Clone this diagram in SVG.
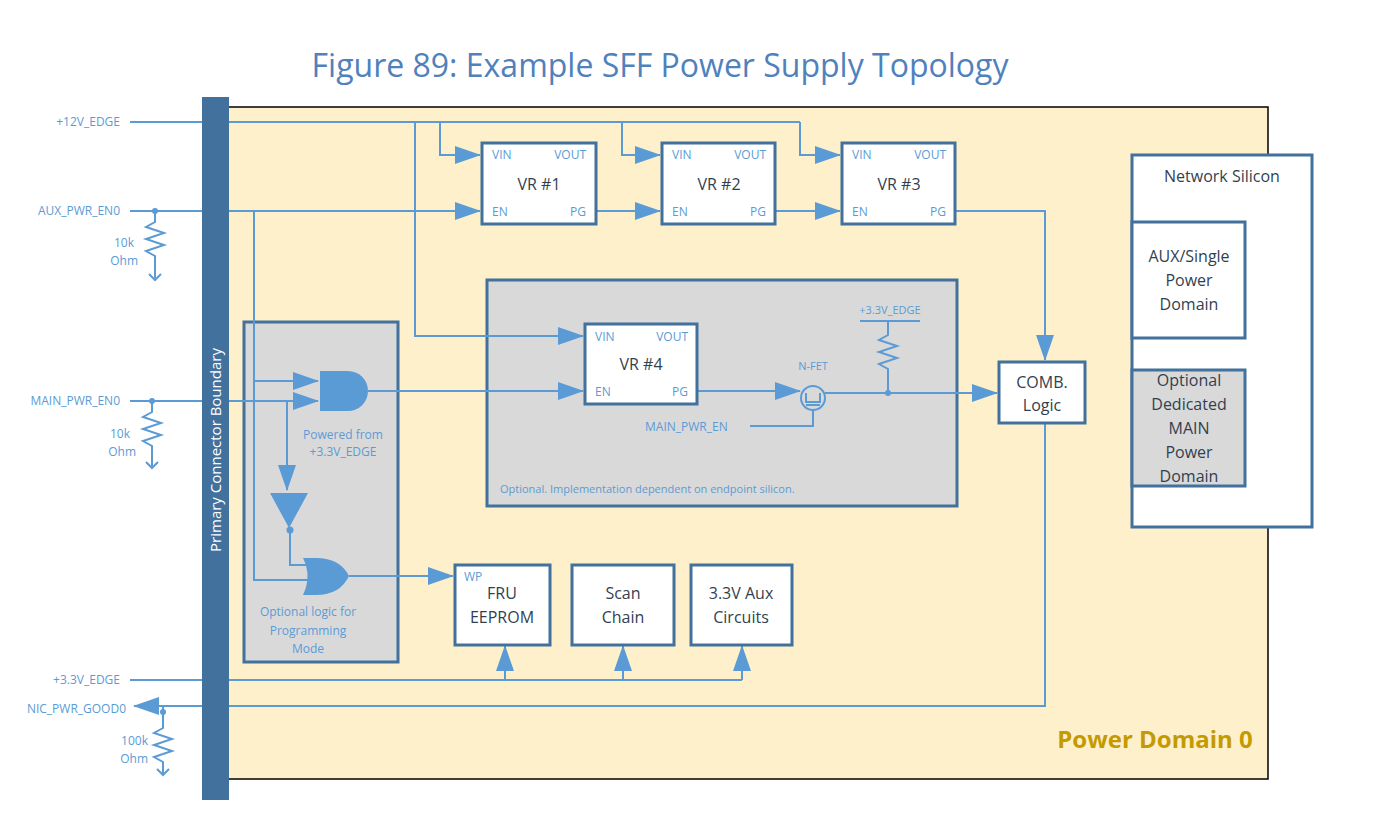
<svg xmlns="http://www.w3.org/2000/svg" width="1375" height="830" viewBox="0 0 1375 830">
<style>
.w{fill:none;stroke:#5B9BD5;stroke-width:2}
.bx{fill:#fff;stroke:#41719C;stroke-width:3}
.gb{fill:#D9D9D9;stroke:#41719C;stroke-width:3}
.t{font-family:"Open Sans","Liberation Sans",sans-serif;fill:#5B9BD5;font-size:12px}
.tc{text-anchor:middle}
.tr{text-anchor:end}
.b{font-family:"Open Sans","Liberation Sans",sans-serif;fill:#333F50;font-size:16px;text-anchor:middle}
.d{fill:#5B9BD5}
</style>
<defs>
<marker id="a" markerWidth="12" markerHeight="10" refX="11" refY="5" orient="auto" markerUnits="userSpaceOnUse"><path d="M0,0L12,5L0,10z" fill="#5B9BD5"/></marker>
<marker id="a2" markerWidth="26" markerHeight="18" refX="25" refY="9" orient="auto" markerUnits="userSpaceOnUse"><path d="M0,0L26,9L0,18z" fill="#5B9BD5"/></marker>
</defs>
<rect width="1375" height="830" fill="#fff"/>
<text x="660" y="77" font-family="'Open Sans','Liberation Sans',sans-serif" font-size="32" fill="#4F81BD" text-anchor="middle">Figure 89: Example SFF Power Supply Topology</text>
<rect x="228" y="107" width="1040" height="672" fill="#FFF0CC" stroke="#000" stroke-width="1.5"/>
<text x="1155" y="748" font-family="'Open Sans','Liberation Sans',sans-serif" font-size="24" font-weight="bold" fill="#C49A00" text-anchor="middle">Power Domain 0</text>
<g id="optional"><rect class="gb" x="487" y="280" width="470" height="226"/><text class="t" x="500" y="493" style="font-size:11px">Optional. Implementation dependent on endpoint silicon.</text></g>
<g id="proglogic"><rect class="gb" x="244" y="322" width="154" height="340"/>
<text class="t tc" x="343" y="439">Powered from</text><text class="t tc" x="343" y="456">+3.3V_EDGE</text>
<text class="t tc" x="308" y="616">Optional logic for</text><text class="t tc" x="308" y="635">Programming</text><text class="t tc" x="308" y="653">Mode</text></g>
<g id="connectors">
<path class="w" d="M130,122H800"/>
<path class="w" d="M440,122V155H480" marker-end="url(#a2)"/>
<path class="w" d="M622,122V155H660" marker-end="url(#a2)"/>
<path class="w" d="M800,122V155H840" marker-end="url(#a2)"/>
<path class="w" d="M415,122V336H583" marker-end="url(#a2)"/>
<path class="w" d="M130,211H480" marker-end="url(#a2)"/>
<path class="w" d="M596,211H660" marker-end="url(#a2)"/>
<path class="w" d="M775,211H840" marker-end="url(#a2)"/>
<path class="w" d="M955,211H1045V360" marker-end="url(#a2)"/>
<path class="w" d="M254,211V580H310"/>
<path class="w" d="M254,381H318" marker-end="url(#a2)"/>
<path class="w" d="M130,401H318" marker-end="url(#a2)"/>
<path class="w" d="M287,401V490" marker-end="url(#a2)"/>
<path class="w" d="M290,530V565H310"/>
<path class="w" d="M368,391H583" marker-end="url(#a2)"/>
<path class="w" d="M349,576H453" marker-end="url(#a2)"/>
<path class="w" d="M697,391H800" marker-end="url(#a2)"/>
<path class="w" d="M825,393H997" marker-end="url(#a2)"/>
<path class="w" d="M750,426H813V410"/>
<path class="w" d="M860,321H920M888,321V335l-9,5 18,6-18,6 18,6-18,6 9,5V393"/>
<path class="w" d="M1045,423V706H134" marker-end="url(#a2)"/>
<path class="w" d="M130,680H742"/>
<path class="w" d="M505,680V646" marker-end="url(#a2)"/>
<path class="w" d="M623,680V646" marker-end="url(#a2)"/>
<path class="w" d="M742,680V646" marker-end="url(#a2)"/>
<path class="w" d="M155,211V222l-9,5 18,6-18,6 18,6-18,6 9,5V278M149,274L155,280 161,274"/>
<path class="w" d="M152,401V412l-9,5 18,6-18,6 18,6-18,6 9,5V466M146,462L152,468 158,462"/>
<path class="w" d="M163,706V728l-9,5 18,6-18,6 18,6-18,6 9,5V773M157,769L163,775 169,769"/>
<circle class="d" cx="155" cy="211" r="3"/><circle class="d" cx="152" cy="401" r="3"/><circle class="d" cx="163" cy="712" r="3"/><circle class="d" cx="888" cy="393" r="3"/><circle class="d" cx="290" cy="530" r="3.5"/>
</g>
<g id="boundary"><rect x="202" y="97" width="27" height="703" fill="#41719C"/>
<text x="0" y="0" transform="translate(221,450) rotate(-90)" font-family="'Open Sans','Liberation Sans',sans-serif" font-size="15" fill="#fff" text-anchor="middle">Primary Connector Boundary</text></g>
<g id="labels">
<text class="t tr" x="120" y="126">+12V_EDGE</text>
<text class="t tr" x="120" y="215">AUX_PWR_EN0</text>
<text class="t tr" x="120" y="405">MAIN_PWR_EN0</text>
<text class="t tr" x="120" y="684">+3.3V_EDGE</text>
<text class="t tr" x="126" y="713">NIC_PWR_GOOD0</text>
<text class="t tr" x="134" y="247">10k</text><text class="t tr" x="138" y="265">Ohm</text>
<text class="t tr" x="130" y="438">10k</text><text class="t tr" x="136" y="456">Ohm</text>
<text class="t tr" x="148" y="745">100k</text><text class="t tr" x="148" y="763">Ohm</text>
<text class="t tc" x="890" y="314" style="font-size:11px">+3.3V_EDGE</text>
<text class="t tc" x="813" y="370" style="font-size:11px">N-FET</text>
<text class="t" x="645" y="431">MAIN_PWR_EN</text>
</g>
<g id="vr1"><rect class="bx" x="482" y="143" width="114" height="81"/><text class="t" x="492" y="159">VIN</text><text class="t tr" x="586" y="159">VOUT</text><text class="t" x="492" y="216">EN</text><text class="t tr" x="586" y="216">PG</text><text class="b" x="539" y="190">VR #1</text></g>
<g id="vr2"><rect class="bx" x="662" y="143" width="113" height="81"/><text class="t" x="672" y="159">VIN</text><text class="t tr" x="766" y="159">VOUT</text><text class="t" x="672" y="216">EN</text><text class="t tr" x="766" y="216">PG</text><text class="b" x="719" y="190">VR #2</text></g>
<g id="vr3"><rect class="bx" x="842" y="143" width="113" height="81"/><text class="t" x="852" y="159">VIN</text><text class="t tr" x="946" y="159">VOUT</text><text class="t" x="852" y="216">EN</text><text class="t tr" x="946" y="216">PG</text><text class="b" x="899" y="190">VR #3</text></g>
<g id="vr4"><rect class="bx" x="585" y="324" width="112" height="80"/><text class="t" x="595" y="341">VIN</text><text class="t tr" x="688" y="341">VOUT</text><text class="t" x="595" y="396">EN</text><text class="t tr" x="688" y="396">PG</text><text class="b" x="641" y="370">VR #4</text></g>
<g id="nfet"><circle cx="813" cy="398" r="12" fill="none" stroke="#5B9BD5" stroke-width="2"/><path class="w" d="M806,393V402H820V393M806,405H820"/></g>
<g id="and"><path class="d" d="M320,371H348A20,20 0 0 1 348,411H320z"/></g>
<g id="buf"><path class="d" d="M270,493H308L289,528z"/></g>
<g id="or"><path class="d" d="M303,558H316Q340,558 349,576Q340,595 316,595H303Q312,576 303,558z"/></g>
<g id="comb"><rect class="bx" x="999" y="362" width="86" height="61"/><text class="b" x="1042" y="388">COMB.</text><text class="b" x="1042" y="411">Logic</text></g>
<g id="fru"><rect class="bx" x="455" y="565" width="95" height="80"/><text class="t" x="464" y="581">WP</text><text class="b" x="502" y="599">FRU</text><text class="b" x="502" y="623">EEPROM</text></g>
<g id="scan"><rect class="bx" x="572" y="565" width="102" height="80"/><text class="b" x="623" y="599">Scan</text><text class="b" x="623" y="623">Chain</text></g>
<g id="aux"><rect class="bx" x="691" y="565" width="101" height="80"/><text class="b" x="741" y="599">3.3V Aux</text><text class="b" x="741" y="623">Circuits</text></g>
<g id="netsil"><rect class="bx" x="1132" y="155" width="180" height="372"/><text class="b" x="1222" y="182">Network Silicon</text>
<rect class="bx" x="1132" y="222" width="113" height="116"/><text class="b" x="1189" y="262">AUX/Single</text><text class="b" x="1189" y="286">Power</text><text class="b" x="1189" y="310">Domain</text>
<rect class="gb" x="1132" y="370" width="113" height="116"/><text class="b" x="1189" y="386">Optional</text><text class="b" x="1189" y="410">Dedicated</text><text class="b" x="1189" y="434">MAIN</text><text class="b" x="1189" y="458">Power</text><text class="b" x="1189" y="482">Domain</text></g>
</svg>
